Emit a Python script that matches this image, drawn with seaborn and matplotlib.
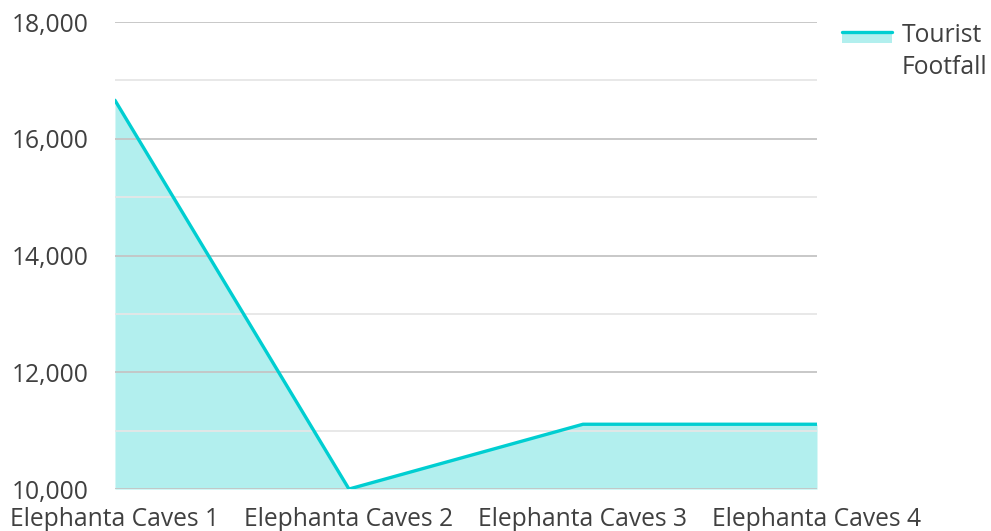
import numpy as np
import pandas as pd
import matplotlib
matplotlib.use("Agg")
import matplotlib.pyplot as plt
import seaborn as sns
from matplotlib.legend_handler import HandlerBase
from matplotlib.patches import Rectangle
from matplotlib.lines import Line2D
from matplotlib.ticker import MultipleLocator, FuncFormatter

# data
sites = ["Elephanta Caves 1", "Elephanta Caves 2", "Elephanta Caves 3", "Elephanta Caves 4"]
footfall = [16660, 10000, 11110, 11110]
series_name = "Tourist\nFootfall"

line_color = "#00CED1"
fill_color = "#B2EFEE"
text_color = "#404040"
fs = 17.7

df = pd.DataFrame({"site": sites, "footfall": footfall})
df["pos"] = np.arange(len(df))

sns.set_theme(style="white")
plt.rcParams["font.family"] = ["Open Sans", "DejaVu Sans"]

fig = plt.figure(figsize=(9.91, 5.31), dpi=100)
ax = fig.add_axes([0.116, 0.079, 0.7084, 0.8795])

ymin = 10000
ax.fill_between(df["pos"], df["footfall"], ymin, color=fill_color, lw=0, zorder=1)
sns.lineplot(data=df, x="pos", y="footfall", color=line_color, lw=2.4, ax=ax, zorder=4)

# gridlines sit above the fill (axisbelow False -> zorder 2.5)
ax.set_axisbelow(False)
ax.yaxis.set_major_locator(MultipleLocator(2000))
ax.yaxis.set_minor_locator(MultipleLocator(1000))
ax.grid(which="major", axis="y", color="#c4c4c4", lw=1.3)
ax.grid(which="minor", axis="y", color="#e6e6e6", lw=1.3)

ax.set_ylim(ymin, 18000)
ax.set_xlim(0, len(df) - 1)
ax.set_xticks(df["pos"])
ax.set_xticklabels(df["site"])
ax.yaxis.set_major_formatter(FuncFormatter(lambda v, p: f"{int(v):,}"))
ax.tick_params(axis="both", which="both", length=0, labelsize=fs, colors=text_color)
ax.tick_params(axis="x", pad=13)
ax.tick_params(axis="y", pad=19)
ax.set_xlabel("")
ax.set_ylabel("")
for s in ax.spines.values():
    s.set_visible(False)


# legend key: line on top of a filled strip, level with the first text line
class AreaHandler(HandlerBase):
    def create_artists(self, legend, orig_handle, xdescent, ydescent,
                       width, height, fontsize, trans):
        y_line = -ydescent + fontsize * 1.19
        rect = Rectangle((-xdescent, y_line - fontsize * 0.45), width, fontsize * 0.45,
                         facecolor=fill_color, edgecolor="none", transform=trans)
        ln = Line2D([-xdescent, -xdescent + width], [y_line, y_line],
                    color=line_color, lw=2.4, transform=trans)
        return [rect, ln]


handle = Line2D([], [], color=line_color)
leg = fig.legend([handle], [series_name], handler_map={Line2D: AreaHandler()},
                 loc="upper left", bbox_to_anchor=(0.8497, 0.957), frameon=False,
                 fontsize=fs, handlelength=2.03, handletextpad=0.41,
                 borderpad=0, borderaxespad=0, labelcolor=text_color)
for t in leg.get_texts():
    t.set_linespacing(1.38)

fig.savefig("out.png", dpi=100)
